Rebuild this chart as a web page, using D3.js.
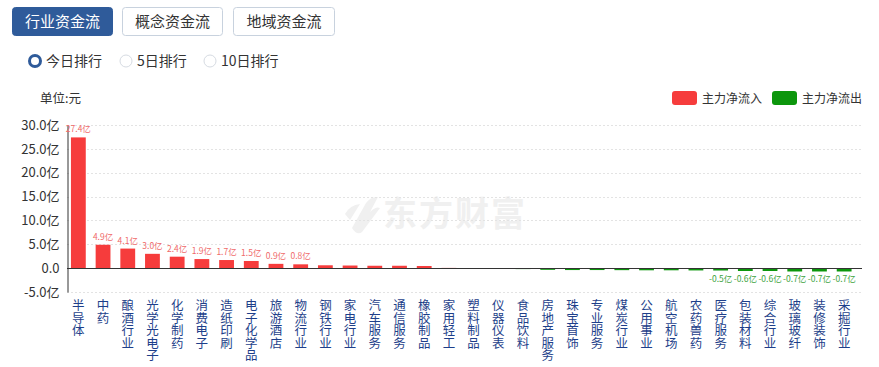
<!DOCTYPE html>
<html><head><meta charset="utf-8">
<script src="https://cdn.jsdelivr.net/npm/d3@7/dist/d3.min.js"></script>
<style>
body{margin:0;background:#fff;font-family:"Microsoft YaHei","Noto Sans CJK SC",sans-serif;}
svg{display:block}
</style></head><body>
<svg id="c" width="879" height="367"></svg>
<script>
const categories = ["半导体","中药","酿酒行业","光学光电子","化学制药","消费电子","造纸印刷","电子化学品","旅游酒店","物流行业","钢铁行业","家电行业","汽车服务","通信服务","橡胶制品","家用轻工","塑料制品","仪器仪表","食品饮料","房地产服务","珠宝首饰","专业服务","煤炭行业","公用事业","航空机场","农药兽药","医疗服务","包装材料","综合行业","玻璃玻纤","装修装饰","采掘行业"];
const values = [27.4,4.9,4.1,3.0,2.4,1.9,1.7,1.5,0.9,0.8,0.6,0.55,0.5,0.5,0.45,0.05,0.03,-0.05,-0.2,-0.35,-0.4,-0.4,-0.42,-0.45,-0.45,-0.48,-0.5,-0.6,-0.6,-0.7,-0.7,-0.7];
const labelShown = [true,true,true,true,true,true,true,true,true,true,false,false,false,false,false,false,false,false,false,false,false,false,false,false,false,false,true,true,true,true,true,true];
const yTicks = [-5,0,5,10,15,20,25,30];
const tabs = ["行业资金流","概念资金流","地域资金流"];
const radios = ["今日排行","5日排行","10日排行"];
const legendItems = ["主力净流入","主力净流出"];

const RED="#f63c3c", GREEN="#0c960c";
const svg=d3.select("#c");
const font='"Microsoft YaHei","Noto Sans CJK SC",sans-serif';

// tabs
const tabX=[12,122,233], tabW=[100,100,101];
tabs.forEach((t,i)=>{
  svg.append("rect").attr("x",tabX[i]+0.5).attr("y",7.5).attr("width",tabW[i]).attr("height",28).attr("rx",3)
    .attr("fill",i===0?"#2f5b9a":"#fff").attr("stroke",i===0?"#2f5b9a":"#c8d2de");
  svg.append("text").attr("x",tabX[i]+tabW[i]/2+0.5).attr("y",27).attr("text-anchor","middle")
    .attr("font-size",15).attr("font-family",font).attr("fill",i===0?"#fff":"#333").text(t);
});
// radios
const rX=[35,126,210];
radios.forEach((t,i)=>{
  if(i===0){
    svg.append("circle").attr("cx",rX[i]).attr("cy",61).attr("r",5.5).attr("fill","#fff").attr("stroke","#2f5b9a").attr("stroke-width",3);
  } else {
    svg.append("circle").attr("cx",rX[i]).attr("cy",61).attr("r",6).attr("fill","#fff").attr("stroke","#d6dbe2");
  }
  svg.append("text").attr("x",rX[i]+11).attr("y",66).attr("font-size",14).attr("font-family",font).attr("fill","#333").text(t);
});

svg.append("text").attr("x",40).attr("y",103).attr("font-size",12.5).attr("font-family",font).attr("fill","#333").text("单位:元");

// legend
const lgX=[672,772];
legendItems.forEach((t,i)=>{
  svg.append("rect").attr("x",lgX[i]).attr("y",91).attr("width",25).attr("height",14).attr("rx",3).attr("fill",i?GREEN:RED);
  svg.append("text").attr("x",lgX[i]+30).attr("y",102.5).attr("font-size",12).attr("font-family",font).attr("fill","#333").text(t);
});

// watermark
const wm=svg.append("g").attr("fill","#f0f0f0");
wm.append("path").attr("d","M352,228 L366,203 Q371,196 378,197 L370,212 Q376,206 380,208 L362,232 Q357,236 352,228 Z M345,214 Q350,205 360,204 L350,220 Z");
wm.append("text").attr("x",383).attr("y",226).attr("font-size",34).attr("font-weight","bold").attr("font-family",font).attr("letter-spacing",2).text("东方财富");

// scales
const x=d3.scaleBand().domain(categories).range([66,856.5]).paddingInner(0.4).paddingOuter(0.2);
const y=d3.scaleLinear().domain([-5,30]).range([292,125]);

// grid
svg.append("g").selectAll("line").data(yTicks.filter(d=>d!==0)).join("line")
  .attr("x1",67).attr("x2",862).attr("y1",d=>Math.round(y(d))+0.5).attr("y2",d=>Math.round(y(d))+0.5)
  .attr("stroke","#e3e3e3").attr("stroke-dasharray","2,2");

// y axis
const yAxis=d3.axisLeft(y).tickValues(yTicks).tickSize(0).tickPadding(8)
  .tickFormat(d=>d===0?"0.0":d.toFixed(1)+"亿");
const ya=svg.append("g").attr("transform","translate(67.5,0)").call(yAxis);
ya.select(".domain").attr("stroke","#333");
ya.selectAll("text").attr("font-size",13).attr("font-family",font).attr("fill","#333");

// bars
svg.append("g").selectAll("rect").data(values).join("rect")
  .attr("x",(d,i)=>x(categories[i]))
  .attr("width",x.bandwidth())
  .attr("y",d=>d>=0?y(d):y(0))
  .attr("height",d=>Math.abs(y(d)-y(0)))
  .attr("fill",d=>d>=0?RED:GREEN);

// bar labels
svg.append("g").selectAll("text").data(values.map((v,i)=>({v,i})).filter(o=>labelShown[o.i])).join("text")
  .attr("x",o=>x(categories[o.i])+x.bandwidth()/2)
  .attr("y",o=>o.v>=0?y(o.v)-5:y(o.v)+11)
  .attr("text-anchor","middle").attr("font-size",8.5).attr("font-family",font)
  .attr("fill",o=>o.v>=0?"#ef6a6a":"#3ea33e")
  .text(o=>o.v.toFixed(1)+"亿");

// x axis line
svg.append("line").attr("x1",67).attr("x2",862).attr("y1",Math.round(y(0))+0.5).attr("y2",Math.round(y(0))+0.5).attr("stroke","#333");

// x labels vertical
svg.append("g").selectAll("text").data(categories).join("text")
  .attr("x",c=>x(c)+x.bandwidth()/2)
  .attr("y",299)
  .attr("writing-mode","vertical-rl")
  .style("text-orientation","upright")
  .attr("font-size",12.5).attr("font-family",font).attr("fill","#1e3f8a")
  .text(c=>c);
</script>
</body></html>
